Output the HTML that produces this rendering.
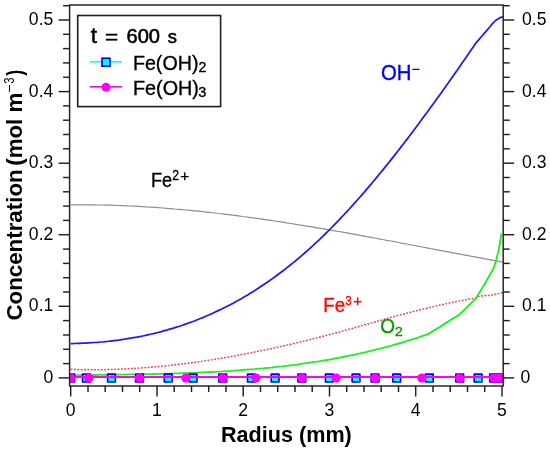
<!DOCTYPE html><html><head><meta charset="utf-8"><title>Concentration vs Radius</title><style>html,body{margin:0;padding:0;background:#fff;}svg{display:block;}</style></head><body>
<svg width="550" height="451" viewBox="0 0 550 451" font-family='"Liberation Sans", Arial, sans-serif'>
<rect width="550" height="451" fill="#fff"/>
<defs><clipPath id="pc"><rect x="69.6" y="5" width="433.6" height="381"/></clipPath></defs>
<g clip-path="url(#pc)" fill="none" stroke-linejoin="round">
<polyline points="70.7,204.9 74.7,204.9 78.7,204.9 82.7,204.8 86.7,204.9 90.7,204.9 94.7,204.9 98.7,205.0 102.7,205.0 106.7,205.1 110.7,205.2 114.7,205.4 118.7,205.5 122.7,205.6 126.7,205.8 130.7,206.0 134.7,206.2 138.7,206.4 142.7,206.6 146.7,206.9 150.7,207.1 154.7,207.4 158.7,207.7 162.7,208.0 166.7,208.3 170.7,208.6 174.7,209.0 178.7,209.3 182.7,209.7 186.7,210.0 190.7,210.4 194.7,210.8 198.7,211.2 202.7,211.7 206.7,212.1 210.7,212.5 214.7,213.0 218.7,213.5 222.7,213.9 226.7,214.4 230.7,214.9 234.7,215.4 238.7,215.9 242.7,216.5 246.7,217.0 250.7,217.6 254.7,218.1 258.7,218.7 262.7,219.2 266.7,219.8 270.7,220.4 274.7,221.0 278.7,221.6 282.7,222.2 286.7,222.9 290.7,223.5 294.7,224.1 298.7,224.8 302.7,225.4 306.7,226.1 310.7,226.7 314.7,227.4 318.7,228.1 322.7,228.7 326.7,229.4 330.7,230.1 334.7,230.8 338.7,231.5 342.7,232.2 346.7,232.9 350.7,233.7 354.7,234.4 358.7,235.1 362.7,235.8 366.7,236.6 370.7,237.3 374.7,238.0 378.7,238.8 382.7,239.5 386.7,240.3 390.7,241.0 394.7,241.7 398.7,242.5 402.7,243.3 406.7,244.0 410.7,244.8 414.7,245.5 418.7,246.3 422.7,247.0 426.7,247.8 430.7,248.6 434.7,249.3 438.7,250.1 442.7,250.9 446.7,251.6 450.7,252.4 454.7,253.1 458.7,253.9 462.7,254.7 466.7,255.4 470.7,256.2 474.7,256.9 478.7,257.7 482.7,258.4 486.7,259.2 490.7,259.9 494.7,260.7 498.7,261.4 502.7,262.1 503.5,262.3" stroke="#8e8e8e" stroke-width="1.2"/>
<polyline points="70.7,369.4 74.7,369.5 78.7,369.6 82.7,369.7 86.7,369.7 90.7,369.8 94.7,369.8 98.7,369.7 102.7,369.7 106.7,369.6 110.7,369.5 114.7,369.4 118.7,369.2 122.7,369.0 126.7,368.8 130.7,368.6 134.7,368.4 138.7,368.1 142.7,367.8 146.7,367.5 150.7,367.2 154.7,366.9 158.7,366.5 162.7,366.1 166.7,365.7 170.7,365.3 174.7,364.8 178.7,364.3 182.7,363.9 186.7,363.4 190.7,362.8 194.7,362.3 198.7,361.7 202.7,361.1 206.7,360.5 210.7,359.9 214.7,359.3 218.7,358.6 222.7,358.0 226.7,357.3 230.7,356.6 234.7,355.9 238.7,355.1 242.7,354.4 246.7,353.6 250.7,352.8 254.7,352.0 258.7,351.2 262.7,350.4 266.7,349.6 270.7,348.7 274.7,347.8 278.7,346.9 282.7,346.1 286.7,345.1 290.7,344.2 294.7,343.3 298.7,342.3 302.7,341.3 306.7,340.4 310.7,339.4 314.7,338.4 318.7,337.3 322.7,336.3 326.7,335.3 330.7,334.2 334.7,333.1 338.7,332.1 342.7,331.0 346.7,329.9 350.7,328.8 354.7,327.7 358.7,326.5 362.7,325.4 366.7,324.3 370.7,323.1 374.7,322.0 378.7,320.9 382.7,319.8 386.7,318.6 390.7,317.5 394.7,316.4 398.7,315.3 402.7,314.3 406.7,313.2 410.7,312.2 414.7,311.1 418.7,310.1 422.7,309.1 426.7,308.2 430.7,307.2 434.7,306.3 438.7,305.3 442.7,304.5 446.7,303.6 450.7,302.7 454.7,301.9 458.7,301.1 462.7,300.4 466.7,299.6 470.7,298.9 474.7,298.2 475.0,298.1 478.0,296.4 484.0,295.6 490.0,295.5 497.0,294.0 503.5,292.4" stroke="#f5383f" stroke-width="1.45" stroke-dasharray="1.8 1.55"/>
<polyline points="70.7,375.3 74.7,375.3 78.7,375.2 82.7,375.1 86.7,375.1 90.7,375.0 94.7,375.0 98.7,374.9 102.7,374.8 106.7,374.8 110.7,374.7 114.7,374.7 118.7,374.6 122.7,374.6 126.7,374.5 130.7,374.4 134.7,374.4 138.7,374.3 142.7,374.2 146.7,374.1 150.7,374.1 154.7,374.0 158.7,373.9 162.7,373.8 166.7,373.7 170.7,373.6 174.7,373.4 178.7,373.3 182.7,373.2 186.7,373.1 190.7,372.9 194.7,372.8 198.7,372.6 202.7,372.4 206.7,372.2 210.7,372.0 214.7,371.8 218.7,371.6 222.7,371.4 226.7,371.1 230.7,370.9 234.7,370.6 238.7,370.3 242.7,370.0 246.7,369.7 250.7,369.4 254.7,369.1 258.7,368.7 262.7,368.4 266.7,368.0 270.7,367.6 274.7,367.1 278.7,366.7 282.7,366.3 286.7,365.8 290.7,365.3 294.7,364.8 298.7,364.3 302.7,363.7 306.7,363.1 310.7,362.5 314.7,361.9 318.7,361.3 322.7,360.6 326.7,360.0 330.7,359.3 334.7,358.5 338.7,357.8 342.7,357.0 346.7,356.2 350.7,355.4 354.7,354.6 358.7,353.7 362.7,352.8 366.7,351.9 370.7,350.9 374.7,349.9 378.7,348.9 382.7,347.9 386.7,346.8 390.7,345.8 394.7,344.6 398.7,343.5 402.7,342.3 406.7,341.1 410.7,339.9 414.7,338.6 418.7,337.3 422.7,335.9 426.7,334.6 428.0,334.1 440.0,326.9 450.0,320.4 459.0,314.9 476.0,298.3 484.6,284.0 493.4,268.8 495.8,261.6 498.2,252.0 499.8,244.0 501.5,233.4" stroke="#22ee22" stroke-width="1.85"/>
<polyline points="70.7,343.5 73.7,343.5 76.7,343.4 79.7,343.3 82.7,343.2 85.7,343.1 88.7,342.9 91.7,342.7 94.7,342.5 97.7,342.3 100.7,342.0 103.7,341.8 106.7,341.5 109.7,341.2 112.7,340.8 115.7,340.4 118.7,340.1 121.7,339.6 124.7,339.2 127.7,338.7 130.7,338.2 133.7,337.7 136.7,337.2 139.7,336.6 142.7,336.0 145.7,335.3 148.7,334.7 151.7,334.0 154.7,333.3 157.7,332.5 160.7,331.8 163.7,330.9 166.7,330.1 169.7,329.2 172.7,328.3 175.7,327.4 178.7,326.5 181.7,325.5 184.7,324.4 187.7,323.4 190.7,322.3 193.7,321.2 196.7,320.0 199.7,318.8 202.7,317.6 205.7,316.3 208.7,315.0 211.7,313.7 214.7,312.3 217.7,310.9 220.7,309.5 223.7,308.0 226.7,306.5 229.7,305.0 232.7,303.4 235.7,301.7 238.7,300.1 241.7,298.4 244.7,296.6 247.7,294.9 250.7,293.0 253.7,291.2 256.7,289.3 259.7,287.3 262.7,285.3 265.7,283.3 268.7,281.2 271.7,279.1 274.7,277.0 277.7,274.8 280.7,272.5 283.7,270.3 286.7,267.9 289.7,265.5 292.7,263.1 295.7,260.7 298.7,258.1 301.7,255.6 304.7,253.0 307.7,250.3 310.7,247.6 313.7,244.9 316.7,242.1 319.7,239.3 322.7,236.4 325.7,233.5 328.7,230.5 331.7,227.5 334.7,224.4 337.7,221.4 340.7,218.2 343.7,215.0 346.7,211.8 349.7,208.5 352.7,205.2 355.7,201.9 358.7,198.5 361.7,195.1 364.7,191.6 367.7,188.1 370.7,184.6 373.7,181.0 376.7,177.4 379.7,173.8 382.7,170.1 385.7,166.4 388.7,162.7 391.7,158.9 394.7,155.1 397.7,151.3 400.7,147.4 403.7,143.5 406.7,139.6 409.7,135.7 412.7,131.7 415.7,127.7 418.7,123.7 421.7,119.6 424.7,115.5 427.7,111.5 430.7,107.3 433.7,103.2 436.7,99.0 439.7,94.9 442.7,90.7 445.7,86.4 448.7,82.2 451.7,77.9 454.7,73.7 457.7,69.4 460.7,65.1 463.7,60.7 466.7,56.4 469.7,52.1 472.7,47.7 475.7,43.3 476.0,42.9 478.0,40.6 482.0,36.0 486.0,31.4 490.0,26.8 492.3,23.8 495.5,20.5 498.7,18.4 500.0,17.7 501.8,17.1 503.5,17.0" stroke="#1a1aff" stroke-width="1.75"/>
<line x1="69" y1="377.1" x2="504" y2="377.1" stroke="#00ffff" stroke-width="2"/>
<rect x="66.8" y="374.1" width="7.8" height="7.8" fill="#00ffff" stroke="#0000ff" stroke-width="1.6"/>
<rect x="82.5" y="374.1" width="7.8" height="7.8" fill="#00ffff" stroke="#0000ff" stroke-width="1.6"/>
<rect x="107.6" y="374.1" width="7.8" height="7.8" fill="#00ffff" stroke="#0000ff" stroke-width="1.6"/>
<rect x="135.6" y="374.1" width="7.8" height="7.8" fill="#00ffff" stroke="#0000ff" stroke-width="1.6"/>
<rect x="164.3" y="374.1" width="7.8" height="7.8" fill="#00ffff" stroke="#0000ff" stroke-width="1.6"/>
<rect x="189.2" y="374.1" width="7.8" height="7.8" fill="#00ffff" stroke="#0000ff" stroke-width="1.6"/>
<rect x="218.8" y="374.1" width="7.8" height="7.8" fill="#00ffff" stroke="#0000ff" stroke-width="1.6"/>
<rect x="247.5" y="374.1" width="7.8" height="7.8" fill="#00ffff" stroke="#0000ff" stroke-width="1.6"/>
<rect x="271.2" y="374.1" width="7.8" height="7.8" fill="#00ffff" stroke="#0000ff" stroke-width="1.6"/>
<rect x="297.9" y="374.1" width="7.8" height="7.8" fill="#00ffff" stroke="#0000ff" stroke-width="1.6"/>
<rect x="325.4" y="374.1" width="7.8" height="7.8" fill="#00ffff" stroke="#0000ff" stroke-width="1.6"/>
<rect x="352.1" y="374.1" width="7.8" height="7.8" fill="#00ffff" stroke="#0000ff" stroke-width="1.6"/>
<rect x="371.1" y="374.1" width="7.8" height="7.8" fill="#00ffff" stroke="#0000ff" stroke-width="1.6"/>
<rect x="392.8" y="374.1" width="7.8" height="7.8" fill="#00ffff" stroke="#0000ff" stroke-width="1.6"/>
<rect x="425.4" y="374.1" width="7.8" height="7.8" fill="#00ffff" stroke="#0000ff" stroke-width="1.6"/>
<rect x="455.8" y="374.1" width="7.8" height="7.8" fill="#00ffff" stroke="#0000ff" stroke-width="1.6"/>
<rect x="474.2" y="374.1" width="7.8" height="7.8" fill="#00ffff" stroke="#0000ff" stroke-width="1.6"/>
<rect x="489.7" y="374.1" width="7.8" height="7.8" fill="#00ffff" stroke="#0000ff" stroke-width="1.6"/>
<rect x="492.6" y="374.1" width="7.8" height="7.8" fill="#00ffff" stroke="#0000ff" stroke-width="1.6"/>
<rect x="495.1" y="374.1" width="7.8" height="7.8" fill="#00ffff" stroke="#0000ff" stroke-width="1.6"/>
<rect x="497.1" y="374.1" width="7.8" height="7.8" fill="#00ffff" stroke="#0000ff" stroke-width="1.6"/>
<rect x="498.6" y="374.1" width="7.8" height="7.8" fill="#00ffff" stroke="#0000ff" stroke-width="1.6"/>
<line x1="69" y1="377.1" x2="504" y2="377.1" stroke="#ff00ff" stroke-width="2"/>
<circle cx="70.7" cy="378" r="4.6" fill="#ff00ff"/>
<circle cx="88.9" cy="378" r="4.6" fill="#ff00ff"/>
<circle cx="139.5" cy="378" r="4.6" fill="#ff00ff"/>
<circle cx="185.8" cy="378" r="4.6" fill="#ff00ff"/>
<circle cx="222.7" cy="378" r="4.6" fill="#ff00ff"/>
<circle cx="256.0" cy="378" r="4.6" fill="#ff00ff"/>
<circle cx="301.8" cy="378" r="4.6" fill="#ff00ff"/>
<circle cx="336.2" cy="378" r="4.6" fill="#ff00ff"/>
<circle cx="375.0" cy="378" r="4.6" fill="#ff00ff"/>
<circle cx="421.8" cy="378" r="4.6" fill="#ff00ff"/>
<circle cx="459.7" cy="378" r="4.6" fill="#ff00ff"/>
<circle cx="493.6" cy="378" r="4.6" fill="#ff00ff"/>
<circle cx="496.5" cy="378" r="4.6" fill="#ff00ff"/>
<circle cx="499.0" cy="378" r="4.6" fill="#ff00ff"/>
<circle cx="501.0" cy="378" r="4.6" fill="#ff00ff"/>
<circle cx="502.5" cy="378" r="4.6" fill="#ff00ff"/>
</g>
<g stroke="#202020" stroke-width="1.45" fill="none">
<rect x="69.6" y="5" width="433.6" height="381"/>
<line x1="58.6" y1="377.9" x2="69.6" y2="377.9"/>
<line x1="503.2" y1="377.9" x2="514.2" y2="377.9"/>
<line x1="63.1" y1="363.6" x2="69.6" y2="363.6"/>
<line x1="503.2" y1="363.6" x2="509.7" y2="363.6"/>
<line x1="63.1" y1="349.3" x2="69.6" y2="349.3"/>
<line x1="503.2" y1="349.3" x2="509.7" y2="349.3"/>
<line x1="63.1" y1="335.0" x2="69.6" y2="335.0"/>
<line x1="503.2" y1="335.0" x2="509.7" y2="335.0"/>
<line x1="63.1" y1="320.6" x2="69.6" y2="320.6"/>
<line x1="503.2" y1="320.6" x2="509.7" y2="320.6"/>
<line x1="58.6" y1="306.3" x2="69.6" y2="306.3"/>
<line x1="503.2" y1="306.3" x2="514.2" y2="306.3"/>
<line x1="63.1" y1="292.0" x2="69.6" y2="292.0"/>
<line x1="503.2" y1="292.0" x2="509.7" y2="292.0"/>
<line x1="63.1" y1="277.7" x2="69.6" y2="277.7"/>
<line x1="503.2" y1="277.7" x2="509.7" y2="277.7"/>
<line x1="63.1" y1="263.4" x2="69.6" y2="263.4"/>
<line x1="503.2" y1="263.4" x2="509.7" y2="263.4"/>
<line x1="63.1" y1="249.1" x2="69.6" y2="249.1"/>
<line x1="503.2" y1="249.1" x2="509.7" y2="249.1"/>
<line x1="58.6" y1="234.7" x2="69.6" y2="234.7"/>
<line x1="503.2" y1="234.7" x2="514.2" y2="234.7"/>
<line x1="63.1" y1="220.4" x2="69.6" y2="220.4"/>
<line x1="503.2" y1="220.4" x2="509.7" y2="220.4"/>
<line x1="63.1" y1="206.1" x2="69.6" y2="206.1"/>
<line x1="503.2" y1="206.1" x2="509.7" y2="206.1"/>
<line x1="63.1" y1="191.8" x2="69.6" y2="191.8"/>
<line x1="503.2" y1="191.8" x2="509.7" y2="191.8"/>
<line x1="63.1" y1="177.5" x2="69.6" y2="177.5"/>
<line x1="503.2" y1="177.5" x2="509.7" y2="177.5"/>
<line x1="58.6" y1="163.2" x2="69.6" y2="163.2"/>
<line x1="503.2" y1="163.2" x2="514.2" y2="163.2"/>
<line x1="63.1" y1="148.8" x2="69.6" y2="148.8"/>
<line x1="503.2" y1="148.8" x2="509.7" y2="148.8"/>
<line x1="63.1" y1="134.5" x2="69.6" y2="134.5"/>
<line x1="503.2" y1="134.5" x2="509.7" y2="134.5"/>
<line x1="63.1" y1="120.2" x2="69.6" y2="120.2"/>
<line x1="503.2" y1="120.2" x2="509.7" y2="120.2"/>
<line x1="63.1" y1="105.9" x2="69.6" y2="105.9"/>
<line x1="503.2" y1="105.9" x2="509.7" y2="105.9"/>
<line x1="58.6" y1="91.6" x2="69.6" y2="91.6"/>
<line x1="503.2" y1="91.6" x2="514.2" y2="91.6"/>
<line x1="63.1" y1="77.3" x2="69.6" y2="77.3"/>
<line x1="503.2" y1="77.3" x2="509.7" y2="77.3"/>
<line x1="63.1" y1="62.9" x2="69.6" y2="62.9"/>
<line x1="503.2" y1="62.9" x2="509.7" y2="62.9"/>
<line x1="63.1" y1="48.6" x2="69.6" y2="48.6"/>
<line x1="503.2" y1="48.6" x2="509.7" y2="48.6"/>
<line x1="63.1" y1="34.3" x2="69.6" y2="34.3"/>
<line x1="503.2" y1="34.3" x2="509.7" y2="34.3"/>
<line x1="58.6" y1="20.0" x2="69.6" y2="20.0"/>
<line x1="503.2" y1="20.0" x2="514.2" y2="20.0"/>
<line x1="63.1" y1="5.7" x2="69.6" y2="5.7"/>
<line x1="503.2" y1="5.7" x2="509.7" y2="5.7"/>
<line x1="70.7" y1="386" x2="70.7" y2="396.5"/>
<line x1="88.0" y1="386" x2="88.0" y2="392.0"/>
<line x1="105.2" y1="386" x2="105.2" y2="392.0"/>
<line x1="122.5" y1="386" x2="122.5" y2="392.0"/>
<line x1="139.7" y1="386" x2="139.7" y2="392.0"/>
<line x1="157.0" y1="386" x2="157.0" y2="396.5"/>
<line x1="174.2" y1="386" x2="174.2" y2="392.0"/>
<line x1="191.5" y1="386" x2="191.5" y2="392.0"/>
<line x1="208.7" y1="386" x2="208.7" y2="392.0"/>
<line x1="226.0" y1="386" x2="226.0" y2="392.0"/>
<line x1="243.2" y1="386" x2="243.2" y2="396.5"/>
<line x1="260.5" y1="386" x2="260.5" y2="392.0"/>
<line x1="277.7" y1="386" x2="277.7" y2="392.0"/>
<line x1="295.0" y1="386" x2="295.0" y2="392.0"/>
<line x1="312.2" y1="386" x2="312.2" y2="392.0"/>
<line x1="329.5" y1="386" x2="329.5" y2="396.5"/>
<line x1="346.7" y1="386" x2="346.7" y2="392.0"/>
<line x1="364.0" y1="386" x2="364.0" y2="392.0"/>
<line x1="381.2" y1="386" x2="381.2" y2="392.0"/>
<line x1="398.5" y1="386" x2="398.5" y2="392.0"/>
<line x1="415.7" y1="386" x2="415.7" y2="396.5"/>
<line x1="433.0" y1="386" x2="433.0" y2="392.0"/>
<line x1="450.2" y1="386" x2="450.2" y2="392.0"/>
<line x1="467.5" y1="386" x2="467.5" y2="392.0"/>
<line x1="484.7" y1="386" x2="484.7" y2="392.0"/>
<line x1="502.0" y1="386" x2="502.0" y2="396.5"/>
</g>
<g font-size="18.5" fill="#000">
<text transform="translate(53.3,382.8) scale(0.95,1)" text-anchor="end">0</text>
<text transform="translate(520.5,382.8) scale(0.95,1)">0</text>
<text transform="translate(53.3,311.2) scale(0.95,1)" text-anchor="end">0.1</text>
<text transform="translate(522.0,311.2) scale(0.95,1)">0.1</text>
<text transform="translate(53.3,239.6) scale(0.95,1)" text-anchor="end">0.2</text>
<text transform="translate(522.0,239.6) scale(0.95,1)">0.2</text>
<text transform="translate(53.3,168.1) scale(0.95,1)" text-anchor="end">0.3</text>
<text transform="translate(522.0,168.1) scale(0.95,1)">0.3</text>
<text transform="translate(53.3,96.5) scale(0.95,1)" text-anchor="end">0.4</text>
<text transform="translate(522.0,96.5) scale(0.95,1)">0.4</text>
<text transform="translate(53.3,24.9) scale(0.95,1)" text-anchor="end">0.5</text>
<text transform="translate(522.0,24.9) scale(0.95,1)">0.5</text>
<text transform="translate(70.7,416.1) scale(0.95,1)" text-anchor="middle">0</text>
<text transform="translate(157.0,416.1) scale(0.95,1)" text-anchor="middle">1</text>
<text transform="translate(243.2,416.1) scale(0.95,1)" text-anchor="middle">2</text>
<text transform="translate(329.5,416.1) scale(0.95,1)" text-anchor="middle">3</text>
<text transform="translate(415.7,416.1) scale(0.95,1)" text-anchor="middle">4</text>
<text transform="translate(502.0,416.1) scale(0.95,1)" text-anchor="middle">5</text>
</g>
<text x="221" y="441.8" font-size="21.6" font-weight="bold">Radius (mm)</text>
<text transform="translate(22.00,320.60) rotate(-90) scale(1.015,1)" font-size="22" font-weight="bold">Concentration</text>
<text transform="translate(22.00,165.80) rotate(-90) scale(1.015,1)" font-size="22" font-weight="bold">(mol m</text>
<text transform="translate(13.90,92.70) rotate(-90) scale(1.0,1)" font-size="14.1" font-weight="normal">&#8722;</text>
<text transform="translate(13.90,83.70) rotate(-90) scale(0.8,1)" font-size="14.1" font-weight="normal">3</text>
<text transform="translate(22.00,75.70) rotate(-90) scale(0.82,1)" font-size="22" font-weight="bold">)</text>
<rect x="77.7" y="15.5" width="142.9" height="91.1" fill="#fff" stroke="#1e1e1e" stroke-width="1.6"/>
<text transform="translate(90.87,42.88) scale(1.050,1)" font-size="21.54" font-weight="normal" fill="#000" stroke="#000" stroke-width="0.50" >t</text>
<text transform="translate(105.07,43.18) scale(1.286,1)" font-size="17.50" font-weight="normal" fill="#000" stroke="#000" stroke-width="0.55" >=</text>
<text transform="translate(126.50,43.00) scale(1.025,1)" font-size="19.58" font-weight="normal" fill="#000" stroke="#000" stroke-width="0.55" >600</text>
<text transform="translate(167.75,43.01) scale(0.972,1)" font-size="18.91" font-weight="normal" fill="#000" stroke="#000" stroke-width="0.55" >s</text>
<line x1="90" y1="61.8" x2="122" y2="61.8" stroke="#00ffff" stroke-width="1.6"/>
<rect x="102" y="58.2" width="8" height="8" fill="#00ffff" stroke="#0000ff" stroke-width="1.6"/>
<text transform="translate(132.93,69.50) scale(0.969,1)" font-size="20.29" font-weight="normal" fill="#000" stroke="#000" stroke-width="0.35" >Fe(OH)</text>
<text transform="translate(198.49,71.60) scale(1.009,1)" font-size="14.00" font-weight="normal" fill="#000" stroke="#000" stroke-width="0.35" >2</text>
<line x1="90" y1="86.8" x2="122" y2="86.8" stroke="#ff00ff" stroke-width="1.6"/>
<circle cx="106" cy="87.3" r="4.5" fill="#ff00ff"/>
<text transform="translate(133.02,94.90) scale(1.004,1)" font-size="19.71" font-weight="normal" fill="#000" stroke="#000" stroke-width="0.35" >Fe(OH)</text>
<text transform="translate(198.32,96.66) scale(1.048,1)" font-size="13.80" font-weight="normal" fill="#000" stroke="#000" stroke-width="0.35" >3</text>
<text transform="translate(381.09,80.38) scale(0.942,1)" font-size="21.55" font-weight="normal" fill="#0000ff" stroke="#0000ff" stroke-width="0.35" >OH</text>
<text transform="translate(411.46,74.74) scale(0.869,1)" font-size="17.14" font-weight="normal" fill="#0000ff" stroke="#0000ff" stroke-width="0.15" >&#8722;</text>
<text transform="translate(151.05,186.80) scale(0.917,1)" font-size="19.71" font-weight="normal" fill="#000" stroke="#000" stroke-width="0.35" >Fe</text>
<text transform="translate(172.19,179.70) scale(0.844,1)" font-size="14.43" font-weight="normal" fill="#000" stroke="#000" stroke-width="0.35" >2</text>
<text transform="translate(180.14,181.44) scale(1.021,1)" font-size="14.90" font-weight="normal" fill="#000" stroke="#000" stroke-width="0.35" >+</text>
<text transform="translate(323.30,312.49) scale(0.899,1)" font-size="20.86" font-weight="normal" fill="#ff0000" stroke="#ff0000" stroke-width="0.35" >Fe</text>
<text transform="translate(345.33,305.27) scale(0.884,1)" font-size="13.24" font-weight="normal" fill="#ff0000" stroke="#ff0000" stroke-width="0.35" >3</text>
<text transform="translate(353.35,306.42) scale(1.021,1)" font-size="14.69" font-weight="normal" fill="#ff0000" stroke="#ff0000" stroke-width="0.35" >+</text>
<text transform="translate(380.25,333.09) scale(0.923,1)" font-size="20.56" font-weight="normal" fill="#00a000" stroke="#00a000" stroke-width="0.35" >O</text>
<text transform="translate(394.67,335.50) scale(1.159,1)" font-size="12.57" font-weight="normal" fill="#00a000" stroke="#00a000" stroke-width="0.35" >2</text>
</svg></body></html>
